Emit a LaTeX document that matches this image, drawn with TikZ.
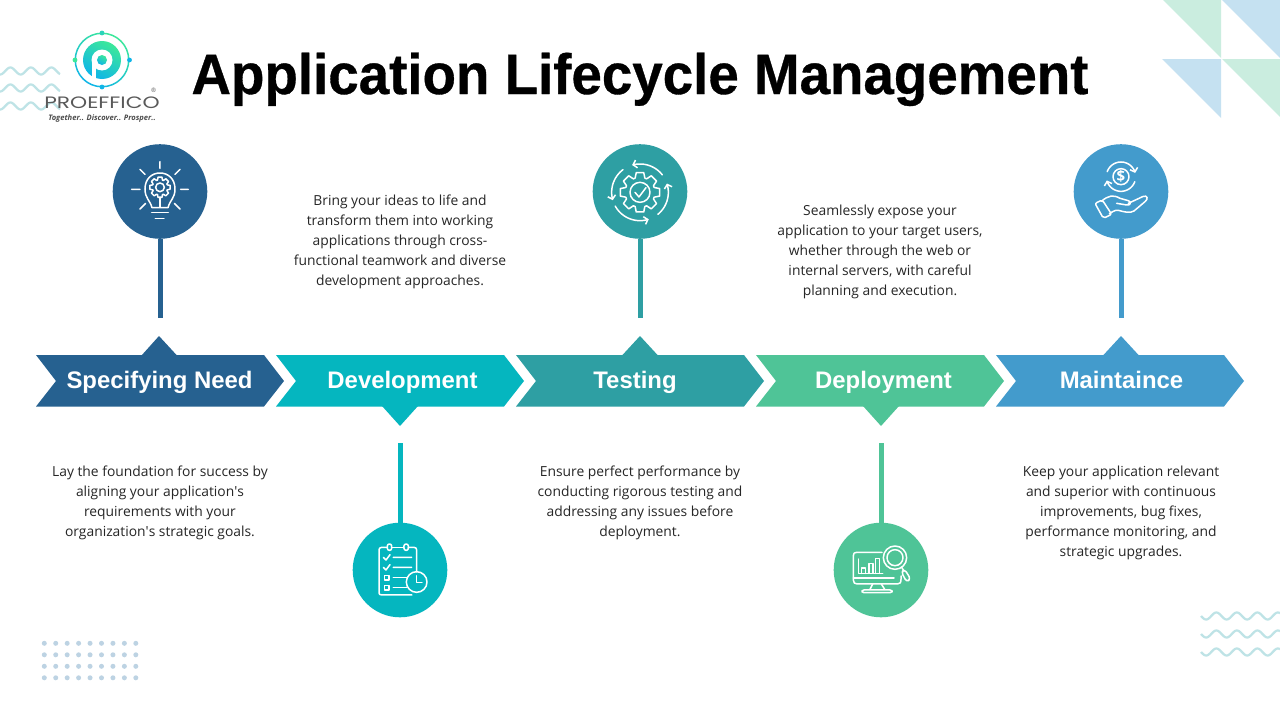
\documentclass[tikz,border=0pt]{standalone}
\usepackage{fontspec}
\usepackage{graphicx}
\setmainfont{Open Sans}
\newfontfamily\titlefont{Liberation Sans}
\newfontfamily\labelfont{Liberation Sans}
\newfontfamily\logofont{Poppins}
\usetikzlibrary{arrows.meta,calc}
\definecolor{cnavy}{HTML}{266190}
\definecolor{cteal}{HTML}{05B6BF}
\definecolor{csea}{HTML}{2E9FA3}
\definecolor{cgreen}{HTML}{4FC497}
\definecolor{cblue}{HTML}{439BCC}
\definecolor{cwave}{HTML}{BEE3E6}
\definecolor{tgreen}{HTML}{CAEDDF}
\definecolor{tblue}{HTML}{C5E1F1}
\definecolor{cdot}{HTML}{BDD3E3}
\definecolor{lgA}{HTML}{3CE89A}
\definecolor{lgB}{HTML}{0FB5E8}
\definecolor{ctext}{HTML}{262626}
\newcommand{\mywave}[4]{\draw[wave] plot[samples=120,domain=#1:#2] (\x,{#3+3.5*sin((\x-#4)/20.5*360)});}
\newcommand{\mychev}[2]{\fill[#2] (#1,355) -- ({#1+228},355) -- ({#1+248},381) -- ({#1+228},406.5) -- (#1,406.5) -- ({#1+20},381) -- cycle;}
\newcommand{\mygear}[5]{\draw[ico] \foreach \a in {0,#5,...,359.9} {
  ($(#1,#2)+(\a-0.42*#5:#3)$) -- ($(#1,#2)+(\a-0.24*#5:#4)$) -- ($(#1,#2)+(\a+0.24*#5:#4)$) -- ($(#1,#2)+(\a+0.42*#5:#3)$) -- ($(#1,#2)+(\a+0.58*#5:#3)$)};}
\newcommand{\myarc}[5]{\draw[ico,barb] plot[samples=30,domain=#4:#5] ({#1+#3*cos(\x)},{#2+#3*sin(\x)});}
\tikzset{
 wave/.style={cwave,line width=2.2pt,line join=round},
 disc/.style={circle,minimum size=94.6pt,inner sep=0pt,fill=#1},
 stem/.style={line width=5pt,#1},
 body/.style={align=center,text=ctext,font=\fontsize{13.85}{20}\selectfont,inner sep=0pt},
 chevlabel/.style={text=white,inner sep=0pt,anchor=base,font=\labelfont\bfseries\fontsize{23.9}{26}\selectfont},
 ico/.style={white,line width=1.5pt,line cap=round,line join=round},
 iconbox/.style={x=0.3333pt,y=-0.3333pt},
 barb/.style={-{Straight Barb[length=3.5pt,width=8pt,line width=1.5pt]}}
}
\begin{document}
\begin{tikzpicture}[x=1pt,y=-1pt]
\useasboundingbox (0,0) rectangle (1280,720);
\fill[white] (0,0) rectangle (1280,720);
% corner triangles
\fill[tgreen] (1163,0) -- (1221,0) -- (1221,58) -- cycle;
\fill[tblue] (1222,0) -- (1280,0) -- (1280,58) -- cycle;
\fill[tblue] (1162,59) -- (1221,59) -- (1221,118) -- cycle;
\fill[tgreen] (1222,59) -- (1280,59) -- (1280,117) -- cycle;
% waves
\mywave{0}{60}{71}{-5}
\mywave{0}{60}{88}{-5}
\mywave{0}{60}{106}{-5}
\mywave{1201}{1280}{616}{1201}
\mywave{1201}{1280}{634}{1201}
\mywave{1201}{1280}{652}{1201}
% dots
\foreach \i in {0,...,8} \foreach \j in {0,...,3}
  \fill[cdot] ({44.3+11.44*\i},{643.3+11.5*\j}) circle (2.5);
% logo
\shade[even odd rule,shading=axis,left color=lgA,right color=lgB,shading angle=-30] (102,60) circle (27.5) (102,60) circle (26);
\fill[lgA!60!lgB] (102,33) circle (2.4);
\fill[lgB] (102,87) circle (2.4);
\fill[lgA] (75,60) circle (2.4);
\fill[lgB] (129.5,60) circle (2.4);
\shade[shading=axis,left color=lgA,right color=lgB,shading angle=-30] (102,60) circle (19);
\fill[white] (102,60) circle (10.5);
\fill[white] (91.5,60) rectangle (96,79);
\shade[shading=axis,left color=lgA,right color=lgB,shading angle=-30] (102,60) circle (5);
\node[inner sep=0pt,text=black!65] (logoname) at (102,103) {\scalebox{1.32}[1]{\logofont\fontsize{16.5}{18}\selectfont PROEFFICO}};
\node[inner sep=0pt,text=black!65] (logoreg) at (153.5,90) {\fontsize{6}{7}\selectfont ®};
\node[inner sep=0pt,text=black!70] (logotag) at (102,119) {\fontsize{7.6}{8}\selectfont\bfseries\itshape Together.. Discover.. Prosper..};
% title
\node[inner sep=0pt,text=black,anchor=base] (title) at (640,94) {\scalebox{0.96}[1]{\titlefont\bfseries\addfontfeature{FakeBold=0.6}\fontsize{57}{60}\selectfont Application Lifecycle Management}};
% chevrons
\fill[cnavy] (141.5,355.5) -- (159,336) -- (177,355.5) -- cycle;
\fill[cteal] (382,406) -- (400,426) -- (418,406) -- cycle;
\fill[csea] (622,355.5) -- (640,336) -- (658,355.5) -- cycle;
\fill[cgreen] (863,406) -- (881,426) -- (899,406) -- cycle;
\fill[cblue] (1103,355.5) -- (1121,336) -- (1139,355.5) -- cycle;
\mychev{36}{cnavy}
\mychev{276}{cteal}
\mychev{516}{csea}
\mychev{756}{cgreen}
\mychev{996}{cblue}
\node[chevlabel] (l1) at (159.5,388) {Specifying Need};
\node[chevlabel] (l2) at (402.5,388) {Development};
\node[chevlabel] (l3) at (635,388) {Testing};
\node[chevlabel] (l4) at (883.5,388) {Deployment};
\node[chevlabel] (l5) at (1121.5,388) {Maintaince};
% discs and stems
\node[disc=cnavy] (c1) at (160,191.5) {};
\node[disc=cteal] (c2) at (400,570) {};
\node[disc=csea] (c3) at (640,191.5) {};
\node[disc=cgreen] (c4) at (881,570) {};
\node[disc=cblue] (c5) at (1121,191.5) {};
\coordinate (e1) at (160,318);
\coordinate (e2) at (400,443);
\coordinate (e3) at (640,318);
\coordinate (e4) at (881,443);
\coordinate (e5) at (1121,318);
\draw[stem=cnavy] (c1.south) -- (e1);
\draw[stem=cteal] (c2.north) -- (e2);
\draw[stem=csea] (c3.south) -- (e3);
\draw[stem=cgreen] (c4.north) -- (e4);
\draw[stem=cblue] (c5.south) -- (e5);
% paragraphs
\node[body] (t1) at (160,503) {Lay the foundation for success by\\aligning your application\textquotesingle s\\requirements with your\\organization\textquotesingle s strategic goals.};
\node[body] (t2) at (400,242) {Bring your ideas to life and\\transform them into working\\applications through cross-\\functional teamwork and diverse\\development approaches.};
\node[body] (t3) at (640,503) {Ensure perfect performance by\\conducting rigorous testing and\\addressing any issues before\\deployment.};
\node[body] (t4) at (880,252) {Seamlessly expose your\\application to your target users,\\whether through the web or\\internal servers, with careful\\planning and execution.};
\node[body] (t5) at (1121,513) {Keep your application relevant\\and superior with continuous\\improvements, bug fixes,\\performance monitoring, and\\strategic upgrades.};
% icon 1 bulb
\begin{scope}[shift={(100,135)},iconbox]
\draw[ico] (180,80)--(180,100) (120,103)--(135,118) (240,103)--(225,118) (95,163)--(120,163) (242,163)--(265,163) (120,222)--(137,205) (240,222)--(223,205);
\draw[ico] (156,218) .. controls (150,195) and (135,190) .. (135,162) .. controls (135,132) and (155,114) .. (180,114) .. controls (205,114) and (225,132) .. (225,162) .. controls (225,190) and (210,195) .. (204,218) -- cycle;
\draw[ico] (155,233)--(205,233) (166,250)--(192,250) (180,186)--(180,216);
\mygear{180}{157}{23}{31}{45}
\draw[ico] (180,157) circle (13);
\end{scope}
% icon 2 clipboard
\begin{scope}[shift={(340,510)},iconbox]
\draw[ico] (205,112) -- (222,112) .. controls (228,112) and (230,116) .. (230,120) -- (230,186);
\draw[ico] (142,112) -- (125,112) .. controls (119,112) and (117,116) .. (117,120) -- (117,248) .. controls (117,252) and (119,255) .. (125,255) -- (216,255);
\draw[ico] (155,112)--(192,112);
\draw[ico,rounded corners=2pt] (142,102) rectangle (155,121) (192,102) rectangle (205,121);
\draw[ico] (130,142)--(138,150)--(150,134) (160,142)--(215,142);
\draw[ico] (130,172)--(138,180)--(150,164) (160,172)--(215,172);
\draw[ico] (133,196) rectangle (147,210) (133,226) rectangle (147,240);
\draw[ico] (160,202)--(200,202) (160,233)--(200,233);
\draw[ico] (230,216) circle (31);
\draw[ico] (230,197)--(230,218)--(246,218);
\end{scope}
% icon 3 gear arrows
\begin{scope}[shift={(580,135)},iconbox]
\mygear{180}{172}{45}{60}{45}
\draw[ico] (180,172) circle (30);
\draw[ico] (165,172)--(177,186)--(198,158);
\myarc{180}{172}{85}{-38}{-106}
\myarc{180}{172}{85}{233}{164}
\myarc{180}{172}{85}{151}{72}
\myarc{180}{172}{85}{51}{-18}
\end{scope}
% icon 4 hand
\begin{scope}[shift={(1060,135)},iconbox]
\draw[ico] (183,125) circle (24);
\node[text=white,inner sep=0pt,font=\bfseries\fontsize{15}{16}\selectfont] (dollar) at (183,125) {\$};
\myarc{183}{125}{44}{20}{165}
\myarc{183}{125}{44}{200}{345}
\draw[ico,rounded corners=2pt] (105,205) -- (127,195) -- (155,238) -- (130,250) -- cycle;
\draw[ico] (125,198) .. controls (145,182) and (160,178) .. (180,190) -- (205,197) .. controls (215,200) and (212,212) .. (200,210) -- (170,205);
\draw[ico] (205,205) -- (250,184) .. controls (262,180) and (266,192) .. (255,200) -- (222,228) .. controls (210,236) and (190,230) .. (175,226) .. controls (165,224) and (155,232) .. (148,236);
\end{scope}
% icon 5 monitor
\begin{scope}[shift={(820,510)},iconbox]
\draw[ico] (186,127) -- (110,127) .. controls (103,127) and (100,130) .. (100,137) -- (100,210) .. controls (100,218) and (104,222) .. (112,222) -- (232,222) .. controls (240,222) and (243,218) .. (243,208) -- (243,198) ;
\draw[ico] (100,204)--(222,204);
\draw[ico] (115,147)--(115,190)--(188,190);
\draw[ico] (124,190)--(124,174)--(137,174)--(137,190) (147,190)--(147,160)--(159,160)--(159,190) (166,190)--(166,146)--(179,146)--(179,190);
\draw[ico] (158,222)--(150,238) (184,222)--(194,238);
\draw[ico,rounded corners=2pt] (126,248)--(126,240)--(216,240)--(216,248)--cycle;
\draw[ico] (225,143) circle (35);
\draw[ico] (225,143) circle (24);
\draw[ico] (245,172)--(250,180);
\draw[ico,rounded corners=3pt] (244,186)--(254,178)--(272,207)--(260,216)--cycle;
\end{scope}
\end{tikzpicture}
\end{document}
